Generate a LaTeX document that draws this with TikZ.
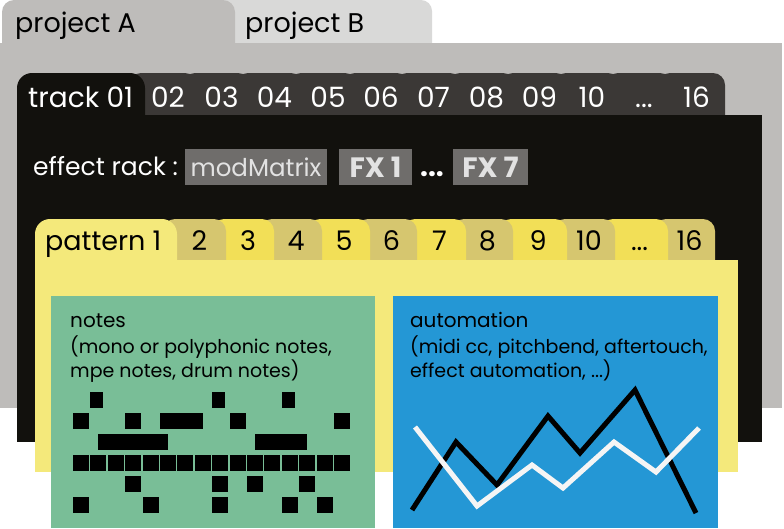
\documentclass[tikz,border=0pt]{standalone}
\usepackage{fontspec}
\setmainfont{Poppins}
\usetikzlibrary{positioning}
\definecolor{projgray}{HTML}{BEBCBA}
\definecolor{projlight}{HTML}{D9D9D8}
\definecolor{trackblack}{HTML}{12110D}
\definecolor{tracktab}{HTML}{3B3836}
\definecolor{fxgray}{HTML}{6F6D6B}
\definecolor{fxtext}{HTML}{E2E2E2}
\definecolor{patyellow}{HTML}{F4E97B}
\definecolor{patdark}{HTML}{D6C66F}
\definecolor{patbright}{HTML}{F2DF57}
\definecolor{notegreen}{HTML}{79BE97}
\definecolor{autoblue}{HTML}{2497D5}
\newcommand{\tabellipsis}{...}
\tikzset{
    projlabel/.style = {anchor=base west,
                    inner sep=0pt,
                    text=black,
                    font=\fontsize{27}{29}\selectfont},
    tracklabel/.style = {anchor=base,
                    inner sep=0pt,
                    text=white,
                    font=\fontsize{28}{30}\selectfont},
    patlabel/.style = {anchor=base,
                    inner sep=0pt,
                    text=black,
                    font=\fontsize{27}{29}\selectfont},
    fxbox/.style =  {rectangle,
                    fill=fxgray,
                    text=fxtext,
                    inner sep=0pt,
                    minimum height=36pt,
                    font=\fontsize{24.5}{26}\selectfont},
    fxbold/.style = {font=\fontsize{28}{30}\selectfont\bfseries},
    boxtitle/.style = {anchor=base west,
                    inner sep=0pt,
                    text=black,
                    font=\fontsize{20}{22}\selectfont},
    boxtext/.style = {anchor=base west,
                    inner sep=0pt,
                    text=black,
                    align=left,
                    font=\fontsize{19}{21}\selectfont},
    cell/.style =   {fill=black},
    curve/.style =  {line width=5pt,
                    line join=miter}
}
\begin{document}
\begin{tikzpicture}[x=1pt,y=-1pt]
    \useasboundingbox[fill=white] (0,0) rectangle (784,528);
    % project layer
    \fill[projlight, rounded corners=11pt] (215,0) rectangle (432,70);
    \fill[projgray, rounded corners=12pt] (2,0) rectangle (235,70);
    \fill[projgray] (0,43) rectangle (782,408);
    \node[projlabel] (projA) at (15,32) {project A};
    \node[projlabel] (projB) at (245,32) {project B};
    % track layer
    \foreach \name/\lab/\xa/\xb in {t16/16/672/725, tdots/\tabellipsis/620/672,
            t10/10/568/620, t09/09/515/568, t08/08/462/515, t07/07/409/462,
            t06/06/357/409, t05/05/303/357, t04/04/250/303, t03/03/197/250,
            t02/02/143/197}{
        \fill[tracktab, rounded corners=12pt] (\xa-14,73) rectangle (\xb,140);
        \node[tracklabel] (\name) at ({(\xa+\xb)/2-2},107) {\lab};
    }
    \fill[trackblack, rounded corners=15pt] (17,73) rectangle (145,140);
    \fill[trackblack] (17,115) rectangle (762,442);
    \node[tracklabel, anchor=base west] (t01) at (28,107) {track 01};
    % effect rack
    \node[anchor=base west, inner sep=0pt, text=white,
          font=\fontsize{25}{27}\selectfont] (rack) at (33,175) {effect rack :};
    \node[fxbox, minimum width=142pt] (mod) at (256,167) {modMatrix};
    \node[fxbox, fxbold, minimum width=73pt] (fx1) at (375.5,167) {FX 1};
    \node[anchor=base, inner sep=0pt, text=white, fxbold]
        (fxdots) at (432,176) {...};
    \node[fxbox, fxbold, minimum width=75pt] (fx7) at (490.5,167) {FX 7};
    % pattern layer
    \foreach \name/\lab/\xa/\xb/\col in {p16/16/668/715/patdark,
            pdots/\tabellipsis/615/668/patbright, p10/10/567/615/patdark,
            p9/9/513/567/patbright, p8/8/466/513/patdark, p7/7/417/466/patbright,
            p6/6/370/417/patdark, p5/5/322/370/patbright, p4/4/274/322/patdark,
            p3/3/226/274/patbright, p2/2/177/226/patdark}{
        \fill[\col, rounded corners=12pt] (\xa-14,219) rectangle (\xb,285);
        \node[patlabel] (\name) at ({(\xa+\xb)/2-2},250) {\lab};
    }
    \fill[patyellow, rounded corners=15pt] (35,219) rectangle (177,285);
    \fill[patyellow] (35,260) rectangle (738,472);
    \node[patlabel, anchor=base west] (p1) at (45,250) {pattern 1};
    % notes
    \fill[notegreen] (51,296) rectangle (375,528);
    \node[boxtitle] (notes) at (70,327) {notes};
    \node[boxtext] (notesinfo) at (70,377)
        {(mono or polyphonic notes,\\mpe notes, drum notes)};
    \foreach \c in {1,8,12}
        \fill[cell] ({73+17.4*\c},392) rectangle +(13,16);
    \foreach \c in {0,3,9,15}
        \fill[cell] ({73+17.4*\c},413) rectangle +(16,16);
    \fill[cell] (160,413) rectangle +(43,16);
    \fill[cell] (98,434) rectangle +(70,16);
    \fill[cell] (255,434) rectangle +(52,16);
    \foreach \c in {0,...,15}
        \fill[cell] ({73+17.4*\c},455) rectangle +(16,16);
    \foreach \c in {3,8,10,13}
        \fill[cell] ({73+17.4*\c},476) rectangle +(16,16);
    \foreach \c in {0,4,8,12,14}
        \fill[cell] ({73+17.4*\c},497) rectangle +(16,16);
    % automation
    \fill[autoblue] (393,296) rectangle (718,528);
    \node[boxtitle] (auto) at (410,327) {automation};
    \node[boxtext] (autoinfo) at (410,377)
        {(midi cc, pitchbend, aftertouch,\\effect automation, ...)};
    \draw[curve, black] (412,510) -- (456,442) -- (497,485) -- (548,416)
        -- (580,453) -- (635,390) -- (696,513);
    \draw[curve, white!96!black] (415,427) -- (477,506) -- (532,465)
        -- (563,488) -- (614,442) -- (656,472) -- (699,428);
\end{tikzpicture}
\end{document}
